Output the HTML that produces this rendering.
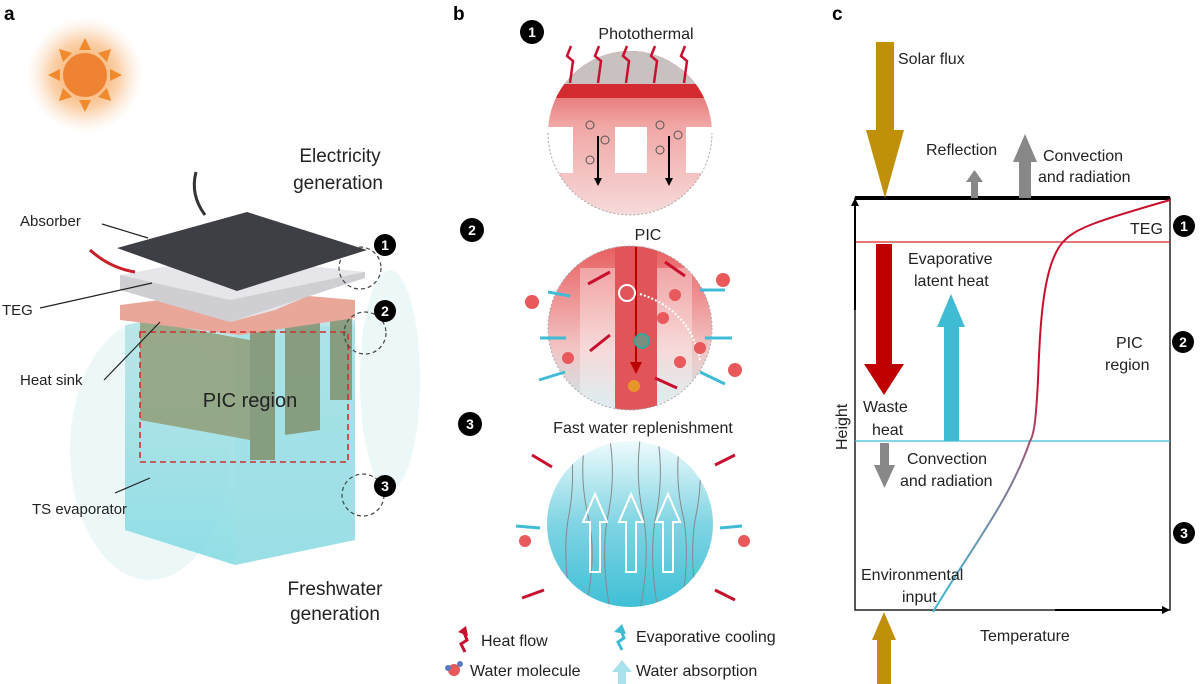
<!DOCTYPE html>
<html><head><meta charset="utf-8"><style>
html,body{margin:0;padding:0;background:#fff;width:1200px;height:684px;overflow:hidden}
svg{display:block;font-family:"Liberation Sans",sans-serif}
</style></head><body>
<svg width="1200" height="684" viewBox="0 0 1200 684" xmlns="http://www.w3.org/2000/svg">
<defs>
<radialGradient id="sun" cx="0.5" cy="0.5" r="0.5"><stop offset="0" stop-color="#f6a04a"/><stop offset="0.6" stop-color="#fbd3ae"/><stop offset="1" stop-color="#fde8d6" stop-opacity="0"/></radialGradient>
<linearGradient id="box" x1="0" y1="0" x2="0" y2="1"><stop offset="0" stop-color="#b7e3e6"/><stop offset="1" stop-color="#7fd9e2"/></linearGradient>
<linearGradient id="c1" x1="0" y1="0" x2="0" y2="1"><stop offset="0" stop-color="#d9333a"/><stop offset="0.45" stop-color="#f0a6a4"/><stop offset="1" stop-color="#f7dcdc"/></linearGradient>
<linearGradient id="c2" x1="0" y1="0" x2="0" y2="1"><stop offset="0" stop-color="#e8585a"/><stop offset="0.6" stop-color="#f3c4c4"/><stop offset="1" stop-color="#c4ecf0"/></linearGradient>
<linearGradient id="c3" x1="0" y1="0" x2="0" y2="1"><stop offset="0" stop-color="#eefbfd"/><stop offset="0.5" stop-color="#7fd4e3"/><stop offset="1" stop-color="#3fc0d6"/></linearGradient>
<linearGradient id="curve" x1="0" y1="0" x2="0" y2="1"><stop offset="0" stop-color="#c8102e"/><stop offset="0.45" stop-color="#c8102e"/><stop offset="0.65" stop-color="#8a7090"/><stop offset="1" stop-color="#3fbcd4"/></linearGradient>
<clipPath id="cl1"><circle cx="630" cy="133" r="82"/></clipPath>
<clipPath id="cl2"><circle cx="630" cy="328" r="82"/></clipPath>
<clipPath id="cl3"><circle cx="630" cy="524" r="83"/></clipPath>
</defs>

<!-- Panel a -->
<text x="4" y="20" font-size="19" font-weight="bold">a</text>
<circle cx="85" cy="75" r="58" fill="url(#sun)"/>
<g fill="#f08a2c">
<circle cx="85" cy="75" r="22" fill="#ee8433"/>
<polygon points="85,38 79,50 91,50"/><polygon points="85,112 79,100 91,100"/>
<polygon points="48,75 60,69 60,81"/><polygon points="122,75 110,69 110,81"/>
<polygon points="59,49 63,62 72,53"/><polygon points="111,101 107,88 98,97"/>
<polygon points="111,49 98,53 107,62"/><polygon points="59,101 72,97 63,88"/>
</g>
<text x="340" y="162" font-size="19" text-anchor="middle" fill="#222">Electricity</text>
<text x="338" y="189" font-size="19" text-anchor="middle" fill="#222">generation</text>
<text x="335" y="595" font-size="19" text-anchor="middle" fill="#222">Freshwater</text>
<text x="335" y="620" font-size="19" text-anchor="middle" fill="#222">generation</text>
<ellipse cx="150" cy="450" rx="80" ry="130" fill="#dff4f4" opacity="0.6"/>
<ellipse cx="390" cy="380" rx="30" ry="110" fill="#dff4f4" opacity="0.6"/>
<polygon points="125,325 235,305 355,320 355,540 235,565 125,530" fill="url(#box)" opacity="0.85"/>
<polygon points="235,565 355,540 355,325 235,330" fill="#9fe0e6" opacity="0.6"/>
<polygon points="140,320 250,340 250,440 140,420" fill="#8e9a70" opacity="0.8"/>
<polygon points="250,330 275,330 275,460 250,460" fill="#7f8c66" opacity="0.8"/>
<polygon points="285,325 320,320 320,430 285,435" fill="#7f8c66" opacity="0.8"/>
<polygon points="330,318 352,318 352,400 330,400" fill="#7f8c66" opacity="0.8"/>
<polygon points="120,305 240,290 355,300 355,318 240,335 120,320" fill="#e9a79a"/>
<polygon points="120,275 200,260 300,265 365,272 275,310 230,322 120,290" fill="#e6e6ea"/>
<polygon points="120,275 230,300 365,272 365,278 230,322 120,290" fill="#cfcfd3"/>
<polygon points="117,248 247,212 367,250 237,291" fill="#3e3f44"/>
<path d="M196,172 Q190,195 205,215" stroke="#333" stroke-width="3" fill="none"/>
<path d="M90,250 Q110,268 135,272" stroke="#c8202a" stroke-width="3" fill="none"/>
<rect x="140" y="332" width="208" height="130" fill="none" stroke="#d0302c" stroke-width="1.6" stroke-dasharray="6,4"/>
<text x="250" y="407" font-size="20" text-anchor="middle" fill="#222">PIC region</text>
<g fill="none" stroke="#444" stroke-dasharray="4,3" stroke-width="1.2">
<circle cx="360" cy="268" r="21"/><circle cx="365" cy="333" r="21"/><circle cx="363" cy="495" r="21"/>
</g>
<g font-size="14" font-weight="bold" text-anchor="middle">
<circle cx="385" cy="245" r="11"/><text x="385" y="250" fill="#fff">1</text>
<circle cx="385" cy="311" r="11"/><text x="385" y="316" fill="#fff">2</text>
<circle cx="385" cy="486" r="11"/><text x="385" y="491" fill="#fff">3</text>
</g>
<g font-size="15" fill="#222">
<text x="20" y="226">Absorber</text><text x="2" y="315">TEG</text>
<text x="20" y="385">Heat sink</text><text x="32" y="514">TS evaporator</text>
</g>
<g stroke="#222" stroke-width="1.2">
<line x1="102" y1="224" x2="148" y2="238"/><line x1="40" y1="308" x2="152" y2="283"/>
<line x1="104" y1="380" x2="160" y2="322"/><line x1="115" y1="493" x2="150" y2="478"/>
</g>

<!-- Panel b -->
<text x="453" y="20" font-size="19" font-weight="bold">b</text>
<g font-size="14" font-weight="bold" text-anchor="middle">
<circle cx="532" cy="32" r="12"/><text x="532" y="37" fill="#fff">1</text>
<circle cx="472" cy="230" r="12"/><text x="472" y="235" fill="#fff">2</text>
<circle cx="470" cy="424" r="12"/><text x="470" y="429" fill="#fff">3</text>
</g>
<text x="646" y="39" font-size="16" text-anchor="middle" fill="#222">Photothermal</text>
<!-- circle 1 -->
<g clip-path="url(#cl1)">
<rect x="540" y="48" width="180" height="170" fill="url(#c1)"/>
<rect x="540" y="48" width="180" height="38" fill="#c9c0c0"/>
<rect x="540" y="84" width="180" height="14" fill="#d42b31"/>
<rect x="540" y="127" width="33" height="46" fill="#fff"/>
<rect x="615" y="127" width="32" height="46" fill="#fff"/>
<rect x="686" y="127" width="35" height="46" fill="#fff"/>
</g>
<path d="M548,133 A82,82 0 0 0 712,133" fill="none" stroke="#aaa" stroke-dasharray="2,2"/>
<g stroke="#000" stroke-width="2"><line x1="598" y1="136" x2="598" y2="180"/><line x1="669" y1="136" x2="669" y2="180"/></g>
<g fill="#000"><polygon points="594,178 602,178 598,186"/><polygon points="665,178 673,178 669,186"/></g>
<g fill="#555"><circle cx="590" cy="125" r="4" fill="none" stroke="#555"/><circle cx="605" cy="140" r="4" fill="none" stroke="#555"/><circle cx="590" cy="160" r="4" fill="none" stroke="#555"/><circle cx="660" cy="125" r="4" fill="none" stroke="#555"/><circle cx="678" cy="135" r="4" fill="none" stroke="#555"/><circle cx="660" cy="150" r="4" fill="none" stroke="#555"/></g>
<g stroke="#c8102e" stroke-width="2.5" fill="none">
<path d="M571,46 l-4,10 l6,5 l-3,22"/><path d="M599,46 l-4,10 l6,5 l-3,22"/><path d="M627,46 l-4,10 l6,5 l-3,22"/><path d="M655,46 l-4,10 l6,5 l-3,22"/><path d="M685,46 l-4,10 l6,5 l-3,22"/>
</g>
<!-- circle 2 -->
<text x="648" y="240" font-size="16" text-anchor="middle" fill="#222">PIC</text>
<g clip-path="url(#cl2)">
<rect x="540" y="240" width="180" height="180" fill="url(#c2)"/>
<rect x="580" y="268" width="35" height="150" fill="#fff" opacity="0.35"/>
<rect x="657" y="268" width="35" height="150" fill="#fff" opacity="0.35"/>
<rect x="615" y="240" width="42" height="180" fill="#e1555a"/>
</g>
<circle cx="630" cy="328" r="82" fill="none" stroke="#aaa" stroke-dasharray="2,2"/>
<line x1="636" y1="247" x2="636" y2="365" stroke="#b00" stroke-width="2"/>
<polygon points="630,362 642,362 636,374" fill="#b00"/>
<circle cx="627" cy="293" r="8" fill="none" stroke="#fff" stroke-width="2"/>
<circle cx="642" cy="341" r="7" fill="#7a8f80" stroke="#3a9" stroke-width="2"/>
<circle cx="634" cy="386" r="6" fill="#e8962a"/>
<path d="M640,294 Q690,310 700,360" stroke="#fff" stroke-width="2" stroke-dasharray="2,2" fill="none"/>
<g fill="#e9585a"><circle cx="532" cy="302" r="7"/><circle cx="723" cy="280" r="7"/><circle cx="675" cy="295" r="6"/><circle cx="663" cy="318" r="6"/><circle cx="568" cy="358" r="6"/><circle cx="735" cy="370" r="7"/><circle cx="700" cy="348" r="6"/><circle cx="680" cy="362" r="6"/></g>
<g stroke="#3fbcd4" stroke-width="3" fill="none">
<path d="M570,296 l-22,-4"/><path d="M566,338 l-26,0"/><path d="M565,372 l-26,8"/>
<path d="M700,290 l25,0"/><path d="M705,338 l27,0"/><path d="M700,372 l25,12"/>
</g>
<g stroke="#c8102e" stroke-width="3" fill="none">
<path d="M610,272 l-22,12"/><path d="M610,335 l-20,16"/><path d="M665,262 l20,14"/><path d="M655,378 l22,10"/>
</g>
<!-- circle 3 -->
<text x="643" y="433" font-size="16" text-anchor="middle" fill="#222">Fast water replenishment</text>
<circle cx="630" cy="524" r="83" fill="url(#c3)"/>
<g clip-path="url(#cl3)" stroke="#888" stroke-width="1" fill="none">
<path d="M570,440 q6,40 -2,80 q-6,40 4,90"/><path d="M585,440 q-6,40 4,80 q8,40 -4,90"/>
<path d="M610,440 q6,40 -3,80 q-6,40 3,90"/><path d="M640,440 q-5,40 4,80 q6,40 -4,90"/>
<path d="M658,440 q6,40 -3,80 q-6,40 3,90"/><path d="M680,440 q-6,40 4,80 q6,40 -3,90"/>
<path d="M698,440 q6,40 -3,80 q-6,40 3,90"/>
</g>
<g fill="none" stroke="#fff" stroke-width="2">
<path d="M590,572 v-50 h-7 l12,-28 l12,28 h-7 v50 z"/>
<path d="M626,572 v-50 h-7 l12,-28 l12,28 h-7 v50 z"/>
<path d="M663,572 v-50 h-7 l12,-28 l12,28 h-7 v50 z"/>
</g>
<g stroke="#c8102e" stroke-width="3" fill="none">
<path d="M532,455 l20,12"/><path d="M735,455 l-20,10"/><path d="M522,598 l22,-8"/><path d="M735,600 l-20,-10"/>
</g>
<g stroke="#3fbcd4" stroke-width="3" fill="none"><path d="M540,528 l-24,-2"/><path d="M720,528 l22,-2"/></g>
<g fill="#e9585a"><circle cx="525" cy="541" r="6"/><circle cx="744" cy="541" r="6"/></g>
<!-- legend -->
<g stroke="#c8102e" stroke-width="3" fill="none"><path d="M465,652 l-4,-8 l6,-4 l-4,-10"/></g>
<polygon points="458,632 466,626 468,636" fill="#c8102e"/>
<text x="481" y="646" font-size="16" fill="#222">Heat flow</text>
<circle cx="454" cy="670" r="6" fill="#e9585a"/><circle cx="448" cy="668" r="3" fill="#5a7ac0"/><circle cx="460" cy="664" r="3" fill="#5a7ac0"/>
<text x="470" y="676" font-size="16" fill="#222">Water molecule</text>
<g stroke="#3fbcd4" stroke-width="3" fill="none"><path d="M622,650 l-4,-8 l6,-4 l-4,-10"/></g>
<polygon points="614,632 622,624 626,634" fill="#3fbcd4"/>
<text x="636" y="642" font-size="16" fill="#222">Evaporative cooling</text>
<polygon points="622,660 612,672 618,672 618,684 626,684 626,672 632,672" fill="#a8e3ec"/>
<text x="636" y="676" font-size="16" fill="#222">Water absorption</text>

<!-- Panel c -->
<text x="832" y="20" font-size="19" font-weight="bold">c</text>
<rect x="855" y="198" width="315" height="412" fill="none" stroke="#222" stroke-width="1.5"/>
<line x1="855" y1="198" x2="1170" y2="198" stroke="#000" stroke-width="4"/>
<line x1="855" y1="242" x2="1170" y2="242" stroke="#d4282c" stroke-width="1.3"/>
<line x1="855" y1="441" x2="1170" y2="441" stroke="#3fbcd4" stroke-width="1.3"/>
<line x1="855" y1="310" x2="855" y2="204" stroke="#000" stroke-width="2"/>
<polygon points="851,206 859,206 855,198" fill="#000"/>
<line x1="1055" y1="610" x2="1165" y2="610" stroke="#000" stroke-width="2"/>
<polygon points="1162,606 1170,610 1162,614" fill="#000"/>
<path d="M1170,200 C1100,220 1075,228 1063,242 C1042,265 1040,330 1038,380 C1036,420 1034,435 1030,441 C1010,500 970,550 933,612" stroke="url(#curve)" stroke-width="2" fill="none"/>
<rect x="876" y="42" width="18" height="90" fill="#c0900a"/><polygon points="866,130 904,130 885,198" fill="#c0900a"/>
<rect x="971" y="180" width="7" height="18" fill="#888"/><polygon points="966,182 983,182 974.5,170" fill="#888"/>
<rect x="1019" y="160" width="12" height="38" fill="#888"/><polygon points="1013,162 1037,162 1025,134" fill="#888"/>
<rect x="876" y="244" width="16" height="122" fill="#c00000"/><polygon points="864,364 904,364 884,395" fill="#c00000"/>
<rect x="944" y="326" width="15" height="115" fill="#3fbcd4"/><polygon points="937,327 965,327 951,294" fill="#3fbcd4"/>
<rect x="880" y="443" width="9" height="24" fill="#888"/><polygon points="874,465 895,465 884.5,488" fill="#888"/>
<rect x="877" y="637" width="14" height="47" fill="#c0900a"/><polygon points="872,640 896,640 884,612" fill="#c0900a"/>
<g font-size="16" fill="#222">
<text x="898" y="64">Solar flux</text>
<text x="926" y="155">Reflection</text>
<text x="1043" y="161">Convection</text><text x="1038" y="182">and radiation</text>
<text x="1130" y="234">TEG</text>
<text x="908" y="264">Evaporative</text><text x="914" y="286">latent heat</text>
<text x="1116" y="348">PIC</text><text x="1105" y="370">region</text>
<text x="863" y="412">Waste</text><text x="872" y="435">heat</text>
<text x="907" y="464">Convection</text><text x="900" y="486">and radiation</text>
<text x="861" y="580">Environmental</text><text x="902" y="602">input</text>
<text x="980" y="641">Temperature</text>
<text x="847" y="450" transform="rotate(-90 847 450)">Height</text>
</g>
<g font-size="14" font-weight="bold" text-anchor="middle">
<circle cx="1184" cy="226" r="11"/><text x="1184" y="231" fill="#fff">1</text>
<circle cx="1183" cy="342" r="11"/><text x="1183" y="347" fill="#fff">2</text>
<circle cx="1184" cy="533" r="11"/><text x="1184" y="538" fill="#fff">3</text>
</g>
</svg>
</body></html>
